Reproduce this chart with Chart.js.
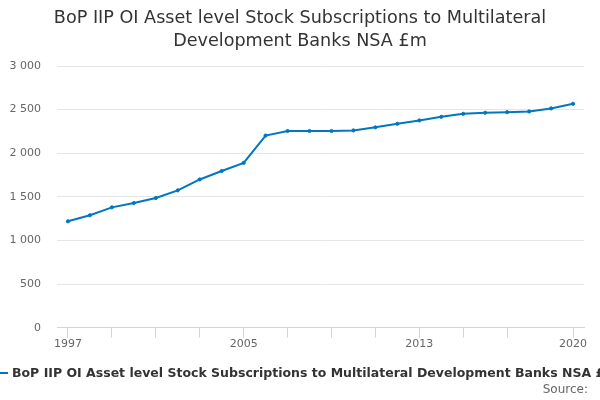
<!DOCTYPE html>
<html><head><meta charset="utf-8">
<script src="https://cdn.jsdelivr.net/npm/chart.js@4"></script>
<style>
html,body{margin:0;padding:0;background:#fff;}
#wrap{position:relative;width:600px;height:400px;overflow:hidden;font-family:"DejaVu Sans",sans-serif;}
#title{position:absolute;left:0;top:6px;width:600px;text-align:center;font-size:17.6px;line-height:23px;color:#333;}
#legend{position:absolute;left:-8px;top:365px;white-space:nowrap;font-size:12.5px;font-weight:bold;color:#333;}
#legend .sym{display:inline-block;width:16px;height:2px;background:#0077c0;vertical-align:middle;margin-right:4px;position:relative;top:-1px;}
#source{position:absolute;right:12px;top:382px;font-size:12px;color:#666;}
canvas{position:absolute;left:0;top:0;}
</style></head>
<body><div id="wrap">
<canvas id="c" width="600" height="400"></canvas>
<div id="title">BoP IIP OI Asset level Stock Subscriptions to Multilateral<br>Development Banks NSA £m</div>
<div id="legend"><span class="sym"></span>BoP IIP OI Asset level Stock Subscriptions to Multilateral Development Banks NSA £m</div>
<div id="source">Source:</div>
</div>
<script>
const years = ["1997","1998","1999","2000","2001","2002","2003","2004","2005","2006","2007","2008","2009","2010","2011","2012","2013","2014","2015","2016","2017","2018","2019","2020"];
const values = [1220,1290,1380,1430,1487,1575,1700,1797,1890,2203,2255,2255,2255,2262,2297,2338,2376,2418,2452,2464,2471,2479,2514,2567];
const labelledYears = ["1997","2005","2013","2020"];
const tickYears = ["1997","1999","2001","2003","2005","2007","2009","2011","2013","2015","2017","2020"];
const yTicks = [0,500,1000,1500,2000,2500,3000];

new Chart(document.getElementById('c'), {
  type: 'line',
  data: { labels: years, datasets: [{
    data: values, borderColor: '#0077c0', backgroundColor: '#0077c0',
    borderWidth: 2, pointRadius: 1.6, pointHoverRadius: 1.6, pointBorderWidth: 1, tension: 0
  }]},
  options: {
    responsive: false, animation: false,
    layout: { padding: { top: 66, left: 10, right: 16, bottom: 49 } },
    plugins: { legend: { display: false }, title: { display: false }, tooltip: { enabled: false } },
    scales: {
      x: {
        offset: true,
        grid: { offset: false, drawOnChartArea: false, tickLength: 10,
          color: (ctx) => (ctx.tick && tickYears.includes(years[ctx.index])) ? '#ccd6eb' : 'rgba(0,0,0,0)' },
        border: { color: '#ccd6eb' },
        ticks: { autoSkip: false, maxRotation: 0, color: '#666', font: { family: 'DejaVu Sans', size: 11 }, padding: 0,
          callback: (v, i) => labelledYears.includes(years[i]) ? years[i] : '' }
      },
      y: {
        min: 0, max: 3000,
        afterBuildTicks: (axis) => { axis.ticks = yTicks.map(v => ({ value: v })); },
        afterFit: (axis) => { axis.width = 47; },
        grid: { color: '#e6e6e6', drawTicks: false },
        border: { display: false },
        ticks: { color: '#666', font: { family: 'DejaVu Sans', size: 11 }, padding: 16,
          callback: (v) => String(v).replace(/\B(?=(\d{3})+(?!\d))/g, ' ') }
      }
    }
  }
});
</script>
</body></html>
